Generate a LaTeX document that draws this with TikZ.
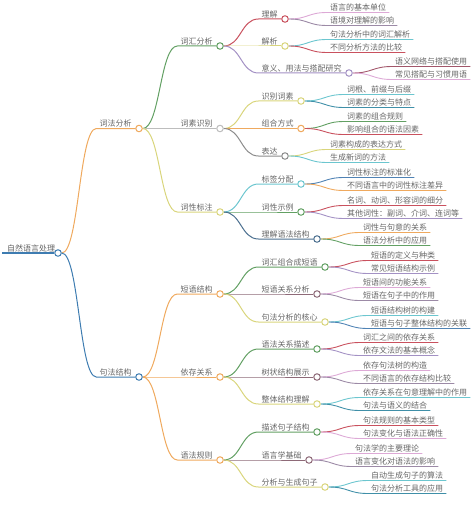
\documentclass[tikz,border=0pt]{standalone}
\usepackage{fontspec}
\newfontfamily\cjk{Noto Sans CJK SC}
\usetikzlibrary{calc, positioning}
\pgfdeclarelayer{bg}
\pgfsetlayers{bg,main}

\definecolor{mmtxt}{HTML}{666666}
\definecolor{mmblue}{HTML}{3E7CB1}
\definecolor{mmorange}{HTML}{EFA95E}
\definecolor{mmgreen}{HTML}{62A063}
\definecolor{mmgray}{HTML}{BDBDBD}
\definecolor{mmdkgray}{HTML}{8C8C8C}
\definecolor{mmkhaki}{HTML}{D9D57C}
\definecolor{mmred}{HTML}{C9515E}
\definecolor{mmpurple}{HTML}{A391C4}
\definecolor{mmpink}{HTML}{DDA9D6}
\definecolor{mmmauve}{HTML}{9C8AA6}
\definecolor{mmwine}{HTML}{A2566A}
\definecolor{mmbrown}{HTML}{8E6A78}
\definecolor{mmcyan}{HTML}{6CC6CF}
\definecolor{mmteal}{HTML}{3F8FA8}
\definecolor{mmslate}{HTML}{4B6F8F}
\definecolor{mmsteel}{HTML}{4F82B4}

\begin{document}
\begin{tikzpicture}[x=1pt, y=-1pt,
		mmdot/.style={circle, draw=#1, fill=white, line width=1pt, minimum size=6.5pt, inner sep=0pt},
		mmtext/.style={font=\cjk\fontsize{8}{9}\selectfont, text=mmtxt, inner xsep=3pt, inner ysep=1pt},
		mmline/.style={draw=#1, line width=1pt}]
		\useasboundingbox (0,0) rectangle (474,508);
		
		% Root
		\node[mmdot=mmblue] (nlp) at (58,253) {};
		\node[mmtext, anchor=south west, inner xsep=5pt] (nlp-t) at (2,253) {自然语言处理};
		\begin{pgfonlayer}{bg}
			\draw[mmline=mmblue, line width=2.2pt] (nlp-t.south west) -- (nlp.west);
		\end{pgfonlayer}
		
		% Branches (parent/name/x/y/colour/text)
		\foreach \pa/\nm/\xc/\yy/\col/\txt in {
			nlp/cifa/139/128.5/mmorange/词法分析,
			nlp/jufa/139/377/mmblue/句法结构,
			cifa/cihui/220/46/mmgreen/词汇分析,
			cifa/cisu/220/128.5/mmgray/词素识别,
			cifa/cixing/220/212/mmkhaki/词性标注,
			jufa/duanyu/220/294/mmorange/短语结构,
			jufa/yicun/220/377/mmorange/依存关系,
			jufa/yufa/220/460/mmorange/语法规则,
			cihui/lijie/285/19/mmred/理解,
			cihui/jiexi/285/46/mmkhaki/解析,
			cihui/yiyi/349/73/mmpurple/意义、用法与搭配研究,
			cisu/shibie/301/101/mmkhaki/识别词素,
			cisu/zuhe/301/128.5/mmorange/组合方式,
			cisu/biaoda/285/156/mmdkgray/表达,
			cixing/biaoqian/301/184/mmcyan/标签分配,
			cixing/shili/301/212/mmgreen/词性示例,
			cixing/jiegou/317/239/mmslate/理解语法结构,
			duanyu/zucheng/325/267/mmgreen/词汇组合成短语,
			duanyu/guanxi/317/294/mmbrown/短语关系分析,
			duanyu/hexin/325/322/mmkhaki/句法分析的核心,
			yicun/miaoshu/317/349/mmgreen/语法关系描述,
			yicun/shuzhuang/317/377/mmbrown/树状结构展示,
			yicun/zhengti/317/404/mmkhaki/整体结构理解,
			yufa/juzi/317/432/mmgreen/描述句子结构,
			yufa/jichu/309/460/mmbrown/语言学基础,
			yufa/shengcheng/325/487/mmkhaki/分析与生成句子} {
			\node[mmdot=\col] (\nm) at (\xc,\yy) {};
			\node[mmtext, anchor=south east] (\nm-t) at ([xshift=-0.5pt]\nm.west) {\txt};
			\begin{pgfonlayer}{bg}
				\draw[mmline=\col] let \p1=(\pa.east), \p2=(\nm-t.south west) in
				(\p1) .. controls ({(\x1+\x2)/2},\y1) and ({(\x1+\x2)/2},\y2) .. (\p2) -- (\nm.west);
			\end{pgfonlayer}
		}
		
		% Leaves (parent/name/x/y/colour/text)
		\foreach \pa/\nm/\xs/\yy/\col/\txt in {
			lijie/lijie-a/327/12.5/mmpink/语言的基本单位,
			lijie/lijie-b/327/25.5/mmmauve/语境对理解的影响,
			jiexi/jiexi-a/327/39.5/mmcyan/句法分析中的词汇解析,
			jiexi/jiexi-b/327/52.5/mmred/不同分析方法的比较,
			yiyi/yiyi-a/392/66.5/mmwine/语义网络与搭配使用,
			yiyi/yiyi-b/392/79.5/mmpink/常见搭配与习惯用语,
			shibie/shibie-a/344/94.5/mmcyan/词根、前缀与后缀,
			shibie/shibie-b/344/107.5/mmteal/词素的分类与特点,
			zuhe/zuhe-a/344/121.5/mmgreen/词素的组合规则,
			zuhe/zuhe-b/344/134.5/mmred/影响组合的语法因素,
			biaoda/biaoda-a/327/149.5/mmkhaki/词素构成的表达方式,
			biaoda/biaoda-b/327/162.5/mmcyan/生成新词的方法,
			biaoqian/biaoqian-a/344/177.5/mmsteel/词性标注的标准化,
			biaoqian/biaoqian-b/344/190.5/mmorange/不同语言中的词性标注差异,
			shili/shili-a/344/205.5/mmred/名词、动词、形容词的细分,
			shili/shili-b/344/218.5/mmpurple/其他词性：副词、介词、连词等,
			jiegou/jiegou-a/360/232.5/mmorange/词性与句意的关系,
			jiegou/jiegou-b/360/245.5/mmgreen/语法分析中的应用,
			zucheng/zucheng-a/368/260.5/mmred/短语的定义与种类,
			zucheng/zucheng-b/368/273.5/mmpurple/常见短语结构示例,
			guanxi/guanxi-a/360/287.5/mmpink/短语间的功能关系,
			guanxi/guanxi-b/360/300.5/mmmauve/短语在句子中的作用,
			hexin/hexin-a/368/315.5/mmcyan/短语结构树的构建,
			hexin/hexin-b/368/328.5/mmsteel/短语与句子整体结构的关联,
			miaoshu/miaoshu-a/360/342.5/mmred/词汇之间的依存关系,
			miaoshu/miaoshu-b/360/355.5/mmpurple/依存文法的基本概念,
			shuzhuang/shuzhuang-a/360/370.5/mmpink/依存句法树的构造,
			shuzhuang/shuzhuang-b/360/383.5/mmmauve/不同语言的依存结构比较,
			zhengti/zhengti-a/360/397.5/mmcyan/依存关系在句意理解中的作用,
			zhengti/zhengti-b/360/410.5/mmteal/句法与语义的结合,
			juzi/juzi-a/360/425.5/mmred/句法规则的基本类型,
			juzi/juzi-b/360/438.5/mmpink/句法变化与语法正确性,
			jichu/jichu-a/352/453.5/mmpink/句法学的主要理论,
			jichu/jichu-b/352/466.5/mmmauve/语言变化对语法的影响,
			shengcheng/shengcheng-a/368/480.5/mmcyan/自动生成句子的算法,
			shengcheng/shengcheng-b/368/493.5/mmteal/句法分析工具的应用} {
			\node[mmtext, anchor=south west] (\nm) at (\xs,\yy) {\txt};
			\begin{pgfonlayer}{bg}
				\draw[mmline=\col, line width=0.9pt] let \p1=(\pa.east), \p2=(\nm.south west) in
				(\p1) .. controls ({(\x1+\x2)/2},\y1) and ({(\x1+\x2)/2},\y2) .. (\p2) -- (\nm.south east);
			\end{pgfonlayer}
		}
	\end{tikzpicture}
\end{document}
